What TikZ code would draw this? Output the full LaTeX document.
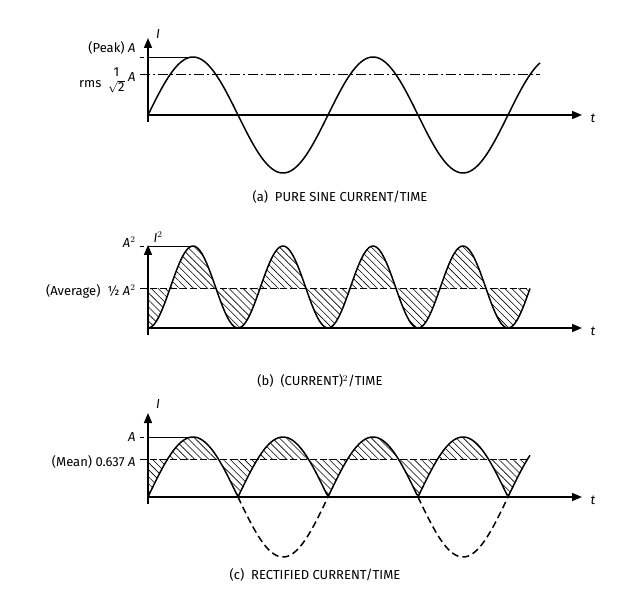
\documentclass[tikz,border=0pt]{standalone}
\usetikzlibrary{patterns.meta,arrows.meta}
\usepackage{fontspec}
\setmainfont{Fira Sans}
\begin{document}
\begin{tikzpicture}[x=1pt,y=-1pt,
  axis/.style={line width=1.5pt,-{Triangle[length=10pt,width=8pt]}},
  curve/.style={line width=1.5pt},
  lab/.style={font=\fontsize{13}{15}\selectfont,anchor=east},
  captxt/.style={font=\fontsize{13}{15}\selectfont},
  vlab/.style={font=\itshape\fontsize{13}{15}\selectfont},
  hatch/.style={pattern={Lines[angle=-45,distance=5pt,line width=0.6pt]}},
  thinln/.style={line width=0.9pt}]
\useasboundingbox (0,0) rectangle (640,604);
% ---------- (a)
\coordinate (oa) at (148,115);
\draw[axis] (148,122) -- (148,38);
\draw[axis] (oa) -- (582,115);
\node[vlab] (Ia) at (158,34) {I};
\node[vlab] (ta) at (593,118) {t};
\draw[thinln] (140,57) -- (144,57) (148,57) -- (190,57);
\draw[thinln,dash pattern=on 10pt off 3pt on 2pt off 3pt] (140,74) -- (540,74);
\draw[curve] plot[domain=0:392,samples=200] ({148+\x},{115-58*sin(\x/180*360)});
\node[lab] (pk) at (139,48) {(Peak) \textit{A}};
\node[lab] (rms) at (139,80) {rms\ \ \raisebox{-4pt}{\shortstack{1\\[1pt]$\sqrt{\mbox{2}}$}}\ \raisebox{6pt}{\textit{A}}};
\node[captxt] (ca) at (340,197) {(a)\ \ PURE SINE CURRENT/TIME};
% ---------- (b)
\begin{scope}
\clip plot[domain=0:382,samples=200] ({148+\x},{328-82*(sin(\x/180*360))^2}) -- (530,328) -- cycle;
\fill[hatch] (148,246) rectangle (530,288);
\end{scope}
\begin{scope}
\clip plot[domain=0:382,samples=200] ({148+\x},{328-82*(sin(\x/180*360))^2}) -- (530,240) -- (148,240) -- cycle;
\fill[hatch] (148,288) rectangle (530,328);
\end{scope}
\draw[axis] (148,335) -- (148,245);
\draw[axis] (148,328) -- (582,328);
\node[vlab] (Ib) at (158,237) {I$^2$};
\node[vlab] (tb) at (593,331) {t};
\draw[thinln] (140,246) -- (144,246) (148,246) -- (190,246);
\draw[thinln,dash pattern=on 7pt off 3pt] (140,288) -- (530,288);
\draw[curve] plot[domain=0:382,samples=200] ({148+\x},{328-82*(sin(\x/180*360))^2});
\node[lab] (a2) at (139,242) {\textit{A}$^2$};
\node[lab] (avg) at (139,291) {(Average)\ \ ½ \textit{A}$^2$};
\node[captxt] (cb) at (320,381) {(b)\ \ (CURRENT)$^2$/TIME};
% ---------- (c)
\begin{scope}
\clip plot[domain=0:380,samples=200] ({148+\x},{497-60*abs(sin(\x/180*360))}) -- (528,497) -- cycle;
\fill[hatch] (148,437) rectangle (528,459);
\end{scope}
\begin{scope}
\clip plot[domain=0:380,samples=200] ({148+\x},{497-60*abs(sin(\x/180*360))}) -- (528,420) -- (148,420) -- cycle;
\fill[hatch] (148,459) rectangle (528,497);
\end{scope}
\draw[axis] (148,504) -- (148,413);
\draw[axis] (148,497) -- (582,497);
\node[vlab] (Ic) at (158,404) {I};
\node[vlab] (tc) at (593,500) {t};
\draw[thinln] (140,437) -- (144,437) (148,437) -- (190,437);
\draw[thinln,dash pattern=on 7pt off 3pt] (140,459) -- (530,459);
\draw[curve] plot[domain=0:382,samples=200] ({148+\x},{497-60*abs(sin(\x/180*360))});
\draw[curve,dash pattern=on 7pt off 4pt] plot[domain=90:180,samples=60] ({148+\x},{497-60*sin(\x/180*360)});
\draw[curve,dash pattern=on 7pt off 4pt] plot[domain=270:360,samples=60] ({148+\x},{497-60*sin(\x/180*360)});
\node[lab] (ac) at (139,437) {\textit{A}};
\node[lab] (mean) at (139,462) {(Mean)\ 0.637 \textit{A}};
\node[captxt] (cc) at (315,575) {(c)\ \ RECTIFIED CURRENT/TIME};
\end{tikzpicture}
\end{document}
